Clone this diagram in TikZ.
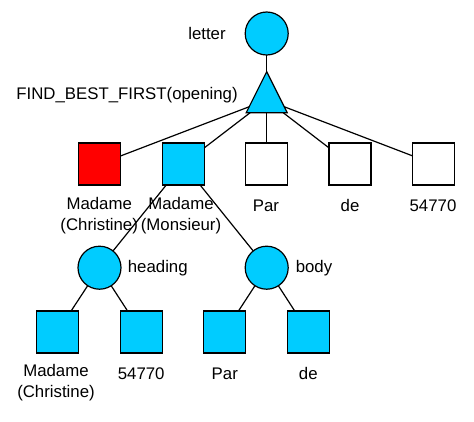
\documentclass[tikz,border=0pt]{standalone}
\usepackage{fontspec}
\setmainfont{Liberation Sans}
\usetikzlibrary{shapes.geometric}
\definecolor{cyanfill}{RGB}{0,204,255}
\definecolor{redfill}{RGB}{255,0,0}
\begin{document}
\begin{tikzpicture}[x=1pt,y=-1pt,
  every node/.style={font=\fontsize{16.8}{21}\selectfont},
  circ/.style={circle,draw=black,line width=1.2pt,fill=cyanfill,minimum size=43pt,inner sep=0pt,outer sep=0pt},
  sq/.style={rectangle,draw=black,line width=1.2pt,minimum size=42pt,inner sep=0pt,outer sep=0pt},
  tri/.style={isosceles triangle,isosceles triangle stretches,shape border rotate=90,draw=black,line width=1.2pt,fill=cyanfill,minimum width=41pt,minimum height=41pt,inner sep=0pt,outer sep=0pt},
  lbl/.style={align=center,inner sep=0pt},
  edge/.style={line width=1.2pt,draw=black}]
\useasboundingbox (0,0) rectangle (474,421);
% nodes
\node[circ] (letter) at (266.7,33.5) {};
\node[tri,anchor=apex] (find) at (266.7,71.7) {};
\node[sq,fill=redfill] (c1) at (99.5,164) {};
\node[sq,fill=cyanfill] (c2) at (183.2,164) {};
\node[sq,fill=white] (c3) at (266.7,164) {};
\node[sq,fill=white] (c4) at (350,164) {};
\node[sq,fill=white] (c5) at (433.8,164) {};
\node[circ] (heading) at (99.5,267.7) {};
\node[circ] (body) at (266.7,267.7) {};
\node[sq,fill=cyanfill] (h1) at (57.3,332) {};
\node[sq,fill=cyanfill] (h2) at (141.2,332) {};
\node[sq,fill=cyanfill] (b1) at (224.8,332) {};
\node[sq,fill=cyanfill] (b2) at (308.3,332) {};
% labels
\node[lbl] (lletter) at (207,33.5) {letter};
\node[lbl] (lfind) at (127,95) {FIND\_BEST\_FIRST(opening)};
\node[lbl] (lc1) at (99.2,215.5) {Madame\\(Christine)};
\node[lbl] (lc2) at (181,215.5) {Madame\\(Monsieur)};
\node[lbl] (lc3) at (266,205.7) {Par};
\node[lbl] (lc4) at (350,205.7) {de};
\node[lbl] (lc5) at (433,205.7) {54770};
\node[lbl] (lheading) at (157.8,267.7) {heading};
\node[lbl] (lbody) at (314,267.7) {body};
\node[lbl] (lh1) at (56,383) {Madame\\(Christine)};
\node[lbl] (lh2) at (141.2,373.3) {54770};
\node[lbl] (lb1) at (224.8,373.3) {Par};
\node[lbl] (lb2) at (308.3,373.3) {de};
% connectors
\draw[edge] (letter) -- (find.apex);
\draw[edge] (find) -- (c1);
\draw[edge] (find) -- (c2);
\draw[edge] (find.south) -- (c3);
\draw[edge] (find) -- (c4);
\draw[edge] (find) -- (c5);
\draw[edge] (c2) -- (heading);
\draw[edge] (c2) -- (body);
\draw[edge] (heading) -- (h1);
\draw[edge] (heading) -- (h2);
\draw[edge] (body) -- (b1);
\draw[edge] (body) -- (b2);
\end{tikzpicture}
\end{document}
